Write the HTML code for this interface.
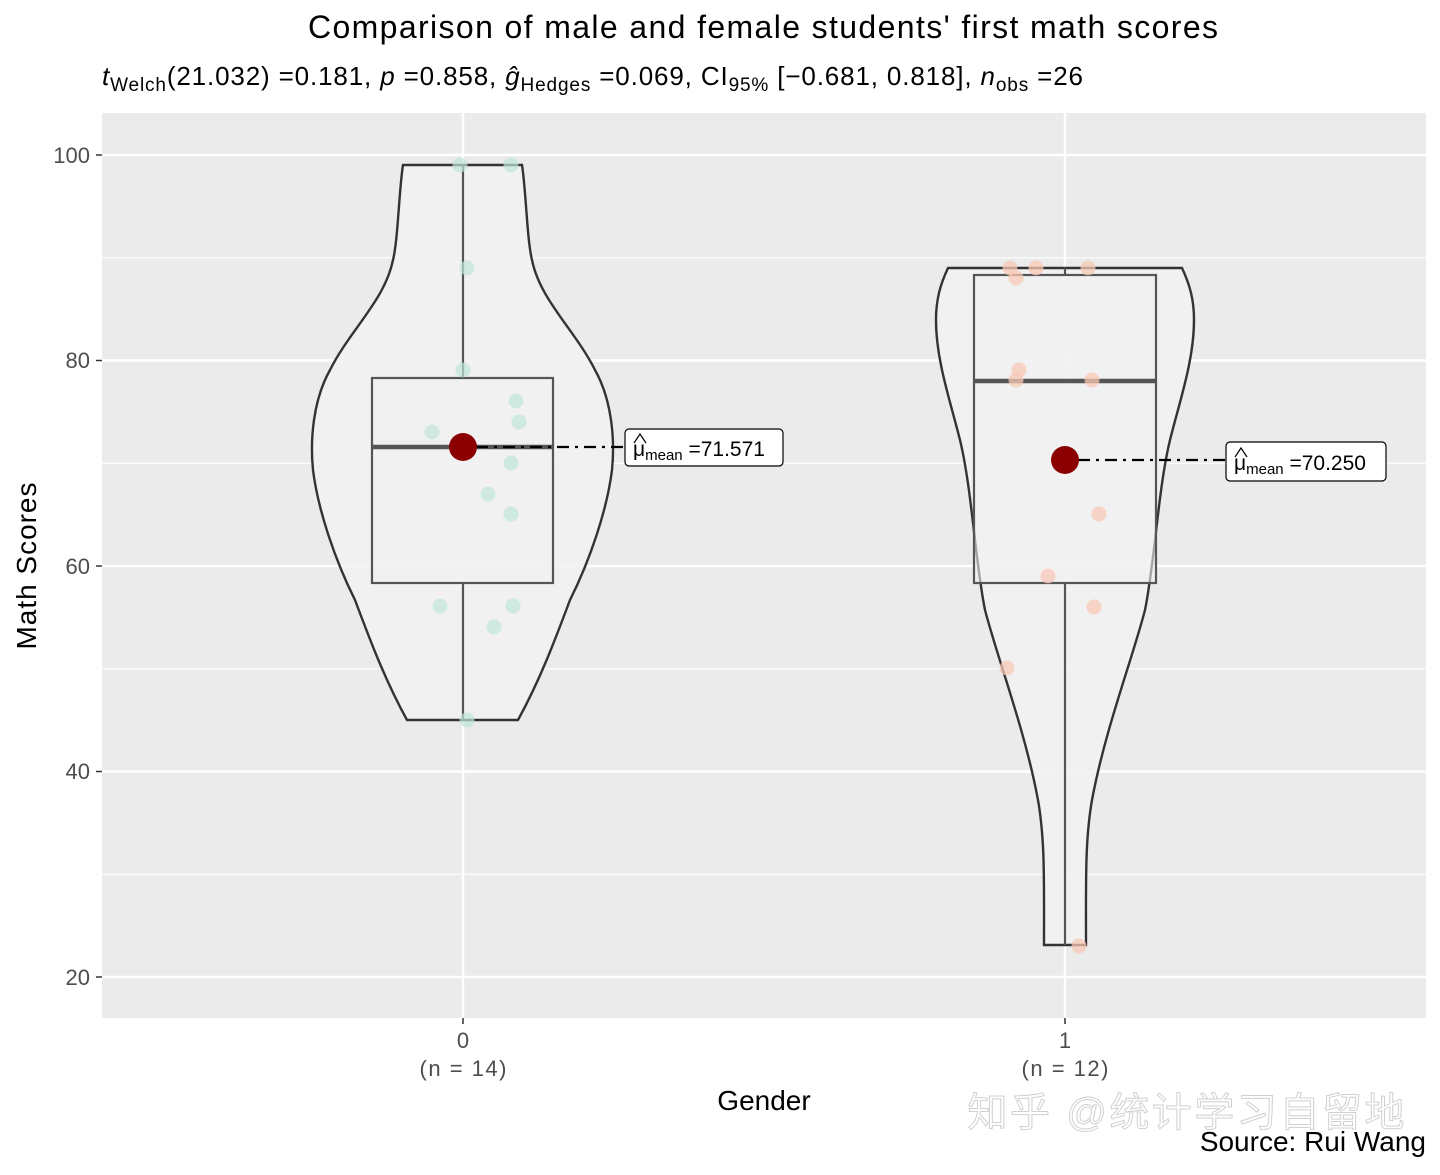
<!DOCTYPE html>
<html><head><meta charset="utf-8"><style>body{margin:0;background:#fff}</style></head><body>
<svg width="1440" height="1170" xmlns="http://www.w3.org/2000/svg" font-family="Liberation Sans, Arial, sans-serif">
<rect width="1440" height="1170" fill="#fff"/>
<rect x="102" y="113" width="1324" height="905" fill="#ebebeb"/>
<g stroke="#fff" stroke-width="1.2">
<line x1="102" x2="1426" y1="257.8" y2="257.8"/><line x1="102" x2="1426" y1="463.3" y2="463.3"/><line x1="102" x2="1426" y1="668.8" y2="668.8"/><line x1="102" x2="1426" y1="874.3" y2="874.3"/>
</g>
<g stroke="#fff" stroke-width="2.4">
<line x1="102" x2="1426" y1="155" y2="155"/><line x1="102" x2="1426" y1="360.5" y2="360.5"/><line x1="102" x2="1426" y1="566" y2="566"/><line x1="102" x2="1426" y1="771.5" y2="771.5"/><line x1="102" x2="1426" y1="977" y2="977"/>
<line x1="463" x2="463" y1="113" y2="1018"/><line x1="1065" x2="1065" y1="113" y2="1018"/>
</g>
<path d="M403,165 C399,190 398,240 393,260 C385,300 350,330 330,370 C313,400 310,440 313,470 C318,510 335,560 355,600 C370,640 385,680 407,720 L518,720 C540,680 555,640 570,600 C590,560 607,510 612,470 C615,440 612,400 595,370 C575,330 540,300 532,260 C527,240 526,190 522,165 Z" fill="#f2f2f2" fill-opacity="0.9" stroke="#333" stroke-width="2.4"/>
<path d="M948,268 C940,285 936,300 936,320 C936,360 950,400 960,440 C972,490 975,560 985,610 C998,660 1025,730 1038,800 C1045,840 1044,880 1044,945 L1086,945 C1086,880 1085,840 1092,800 C1105,730 1132,660 1145,610 C1155,560 1158,490 1170,440 C1180,400 1194,360 1194,320 C1194,300 1190,285 1182,268 Z" fill="#f2f2f2" fill-opacity="0.9" stroke="#333" stroke-width="2.4"/>
<g stroke="#555" stroke-width="2.2" fill="#f2f2f2" fill-opacity="0.6">
<line x1="463" x2="463" y1="165" y2="378"/><line x1="463" x2="463" y1="583" y2="720"/>
<rect x="372" y="378" width="181" height="205"/>
<line x1="1065" x2="1065" y1="268" y2="275"/><line x1="1065" x2="1065" y1="583" y2="945"/>
<rect x="974" y="275" width="182" height="308"/>
</g>
<line x1="372" x2="553" y1="447" y2="447" stroke="#555" stroke-width="4.5"/>
<line x1="974" x2="1156" y1="381" y2="381" stroke="#555" stroke-width="4.5"/>
<g fill="#bfe6d8" fill-opacity="0.7">
<circle cx="460" cy="165" r="7.5"/><circle cx="511" cy="165" r="7.5"/><circle cx="467" cy="268" r="7.5"/><circle cx="463" cy="370" r="7.5"/><circle cx="516" cy="401" r="7.5"/><circle cx="519" cy="422" r="7.5"/><circle cx="432" cy="432" r="7.5"/><circle cx="511" cy="463" r="7.5"/><circle cx="488" cy="494" r="7.5"/><circle cx="511" cy="514" r="7.5"/><circle cx="440" cy="606" r="7.5"/><circle cx="513" cy="606" r="7.5"/><circle cx="494" cy="627" r="7.5"/><circle cx="467" cy="720" r="7.5"/>
</g>
<g fill="#f8c8b6" fill-opacity="0.75">
<circle cx="1010" cy="268" r="7.5"/><circle cx="1036" cy="268" r="7.5"/><circle cx="1088" cy="268" r="7.5"/><circle cx="1016" cy="278" r="7.5"/><circle cx="1019" cy="370" r="7.5"/><circle cx="1016" cy="380" r="7.5"/><circle cx="1092" cy="380" r="7.5"/><circle cx="1099" cy="514" r="7.5"/><circle cx="1048" cy="576" r="7.5"/><circle cx="1094" cy="607" r="7.5"/><circle cx="1007" cy="668" r="7.5"/><circle cx="1079" cy="946" r="7.5"/>
</g>
<g stroke="#000" stroke-width="2.2" stroke-dasharray="12,6,3,6">
<line x1="476" x2="625" y1="447" y2="447"/><line x1="1078" x2="1226" y1="460" y2="460"/>
</g>
<circle cx="463" cy="447" r="14" fill="#8b0000"/>
<circle cx="1065" cy="460" r="14" fill="#8b0000"/>
<rect x="625" y="429" width="158" height="37" rx="4" fill="#fff" stroke="#000" stroke-width="1.2"/>
<path d="M634,443 L640,434 L646,443" fill="none" stroke="#000" stroke-width="1.2"/>
<text x="633" y="456" font-size="21">μ<tspan font-size="15" dy="4">mean</tspan><tspan dy="-4"> =71.571</tspan></text>
<rect x="1226" y="442" width="160" height="39" rx="4" fill="#fff" stroke="#000" stroke-width="1.2"/>
<path d="M1235,457 L1241,448 L1247,457" fill="none" stroke="#000" stroke-width="1.2"/>
<text x="1234" y="470" font-size="21">μ<tspan font-size="15" dy="4">mean</tspan><tspan dy="-4"> =70.250</tspan></text>
<g font-size="22" fill="#4d4d4d" text-anchor="end">
<text x="90" y="163">100</text><text x="90" y="368">80</text><text x="90" y="574">60</text><text x="90" y="779">40</text><text x="90" y="985">20</text>
</g>
<g stroke="#333" stroke-width="1.5"><line x1="96" x2="102" y1="155" y2="155"/><line x1="96" x2="102" y1="360.5" y2="360.5"/><line x1="96" x2="102" y1="566" y2="566"/><line x1="96" x2="102" y1="771.5" y2="771.5"/><line x1="96" x2="102" y1="977" y2="977"/><line x1="463" x2="463" y1="1018" y2="1024"/><line x1="1065" x2="1065" y1="1018" y2="1024"/></g>
<g font-size="22" fill="#4d4d4d" text-anchor="middle">
<text x="463" y="1048">0</text><text x="463" y="1076" textLength="87">(n = 14)</text>
<text x="1065" y="1048">1</text><text x="1065" y="1076" textLength="87">(n = 12)</text>
</g>
<text x="764" y="1110" font-size="28" text-anchor="middle">Gender</text>
<text transform="translate(36,566) rotate(-90)" font-size="28" text-anchor="middle" textLength="167">Math Scores</text>
<text x="763" y="38" font-size="32" text-anchor="middle" textLength="910">Comparison of male and female students' first math scores</text>
<text x="102" y="85" font-size="26" textLength="981"><tspan font-style="italic">t</tspan><tspan font-size="19" dy="6">Welch</tspan><tspan dy="-6">(21.032) =0.181, </tspan><tspan font-style="italic">p</tspan> =0.858, <tspan font-style="italic">ĝ</tspan><tspan font-size="19" dy="6">Hedges</tspan><tspan dy="-6"> =0.069, CI</tspan><tspan font-size="19" dy="6">95%</tspan><tspan dy="-6"> [−0.681, 0.818], </tspan><tspan font-style="italic">n</tspan><tspan font-size="19" dy="6">obs</tspan><tspan dy="-6"> =26</tspan></text>
<text x="1186" y="1126" font-size="40" fill="#ffffff" stroke="#d0d0d0" stroke-width="1" font-family="Liberation Sans, Noto Sans CJK SC, sans-serif" text-anchor="middle" textLength="437">知乎 @统计学习自留地</text>
<text x="1426" y="1151" font-size="28" text-anchor="end">Source: Rui Wang</text>
</svg>
</body></html>
